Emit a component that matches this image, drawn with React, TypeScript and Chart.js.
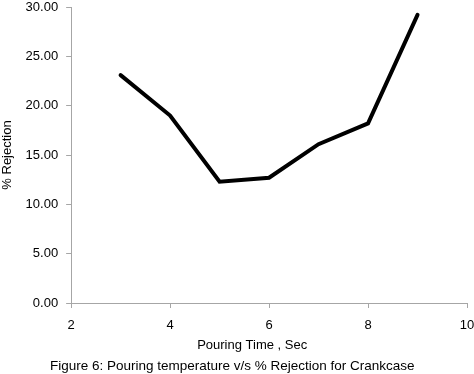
import React, { useEffect, useRef } from "react";
import { Chart, registerables } from "chart.js";

Chart.register(...registerables);

const pouringTime = [3, 4, 5, 6, 7, 8, 9];
const rejection = [23.1, 19.0, 12.3, 12.7, 16.1, 18.2, 29.2];
const xTicks = [2, 4, 6, 8, 10];
const yTicks = [0, 5, 10, 15, 20, 25, 30];
const xTitle = "Pouring Time , Sec";
const yTitle = "% Rejection";
const caption = "Figure 6: Pouring temperature v/s % Rejection for Crankcase";

const FAMILY = "'Liberation Sans', Arial, sans-serif";

const bottomTexts = {
  id: "bottomTexts",
  afterDraw(chart: any) {
    const ctx = chart.ctx;
    ctx.save();
    ctx.fillStyle = "#000";
    ctx.textAlign = "center";
    ctx.textBaseline = "middle";
    ctx.font = `13px ${FAMILY}`;
    ctx.fillText(xTitle, chart.width * 0.532, chart.height - 29);
    ctx.font = `13.5px ${FAMILY}`;
    ctx.fillText(caption, chart.width * 0.49, chart.height - 8);
    ctx.restore();
  },
};

export default function App() {
  const ref = useRef<HTMLCanvasElement>(null);
  useEffect(() => {
    document.body.style.margin = "0";
    const font = { family: FAMILY, size: 13 };
    const chart = new Chart(ref.current!, {
      type: "line",
      data: {
        datasets: [
          {
            data: pouringTime.map((x, i) => ({ x, y: rejection[i] })),
            borderColor: "#000",
            borderWidth: 4,
            pointRadius: 0,
            tension: 0,
            borderJoinStyle: "miter",
            borderCapStyle: "round",
          },
        ],
      },
      plugins: [bottomTexts],
      options: {
        animation: false,
        responsive: false,
        layout: { padding: { left: 0, right: 0, top: 0, bottom: 16 } },
        plugins: {
          legend: { display: false },
          tooltip: { enabled: false },
          title: { display: false },
        },
        scales: {
          x: {
            type: "linear",
            min: 2,
            max: 10,
            afterBuildTicks: (s: any) => {
              s.ticks = xTicks.map((v) => ({ value: v }));
            },
            afterFit: (s: any) => {
              s.paddingRight = 7;
              s.paddingLeft = 0;
              s.height = 55;
            },
            ticks: { color: "#000", font, padding: 10, maxRotation: 0 },
            grid: { drawOnChartArea: false, color: "#a6a6a6", tickLength: 5 },
            border: { color: "#a6a6a6", width: 1 },
            title: { display: false, text: xTitle },
          },
          y: {
            min: 0,
            max: 30,
            afterBuildTicks: (s: any) => {
              s.ticks = yTicks.map((v) => ({ value: v }));
            },
            afterFit: (s: any) => {
              s.paddingTop = 7;
              s.paddingBottom = 0;
            },
            ticks: { color: "#000", font, padding: 8, callback: (v: any) => Number(v).toFixed(2) },
            grid: { drawOnChartArea: false, color: "#a6a6a6", tickLength: 5 },
            border: { color: "#a6a6a6", width: 1 },
            title: { display: true, text: yTitle, color: "#000", font, padding: { top: 0, bottom: 2 } },
          },
        },
      },
    });
    return () => chart.destroy();
  }, []);
  return (
    <div style={{ width: 474, height: 374, overflow: "hidden", background: "#fff" }}>
      <canvas ref={ref} width={474} height={374} style={{ display: "block" }} />
    </div>
  );
}
